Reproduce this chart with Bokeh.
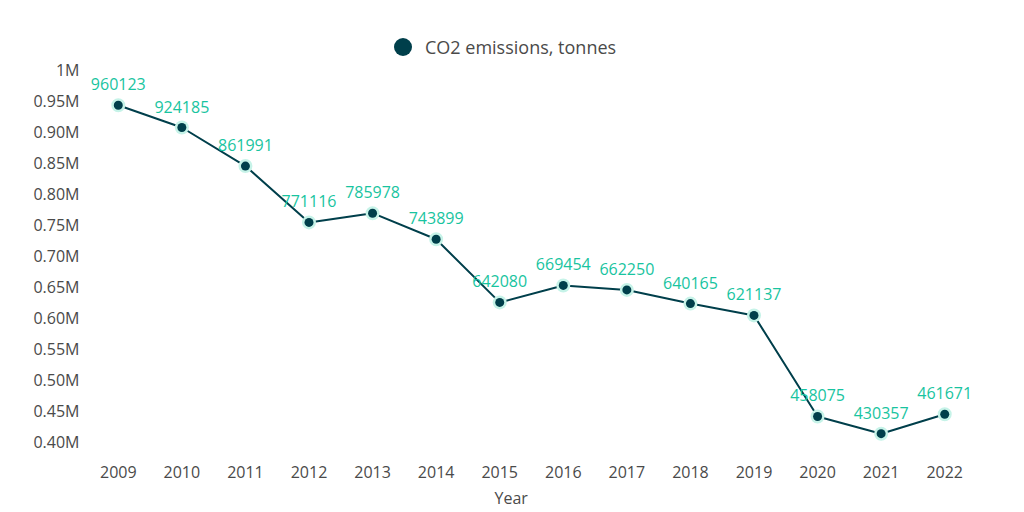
from bokeh.plotting import figure
from bokeh.models import (ColumnDataSource, Range1d, FixedTicker, Legend,
                          LegendItem, LinearAxis, Title)
from bokeh.core.properties import value
from bokeh.embed import file_html
from bokeh.resources import INLINE

# Annual CO2 emissions (tonnes)
years = [2009, 2010, 2011, 2012, 2013, 2014, 2015, 2016, 2017, 2018, 2019, 2020, 2021, 2022]
emissions = [960123, 924185, 861991, 771116, 785978, 743899, 642080,
             669454, 662250, 640165, 621137, 458075, 430357, 461671]

y_ticks = [400000, 450000, 500000, 550000, 600000, 650000, 700000,
           750000, 800000, 850000, 900000, 950000, 1000000]
y_tick_labels = ["0.40M", "0.45M", "0.50M", "0.55M", "0.60M", "0.65M", "0.70M",
                 "0.75M", "0.80M", "0.85M", "0.90M", "0.95M", "1M"]

FONT = "Open Sans"
DARK = "#003f4b"
ACCENT = "#18c4a0"
HALO = "#c6f3e8"
GREY = "#4a4a4a"

Y_START, Y_END = 395161, 1112903
FRAME_H = 445
# tick labels sit a little above their tick positions
label_lift = 10 * (Y_END - Y_START) / FRAME_H

source = ColumnDataSource(data=dict(
    year=years,
    value=emissions,
    label=[str(v) for v in emissions],
))

p = figure(width=1024, height=512, output_backend="svg", toolbar_location=None,
           x_range=Range1d(2008.5, 2022.5),
           y_range=Range1d(Y_START, Y_END),
           y_axis_location=None,
           min_border_left=86, min_border_right=48,
           min_border_top=10, min_border_bottom=57)
p.outline_line_color = None
p.background_fill_color = "white"
p.border_fill_color = "white"
p.grid.visible = False

# series line and markers
p.line("year", "value", source=source, line_color=DARK, line_width=2)
p.scatter("year", "value", source=source, size=14, fill_color=HALO,
          line_color=None)
dots = p.scatter("year", "value", source=source, size=9, fill_color=DARK,
                 line_color=None)

# value labels above each point
p.text("year", "value", text="label", source=source, text_align="center",
       text_baseline="alphabetic", y_offset=-21, text_color=ACCENT,
       text_font=value(FONT), text_font_size="16px")

# y axis
p.extra_y_ranges = {"ticks": Range1d(Y_START - label_lift, Y_END - label_lift)}
yaxis = LinearAxis(y_range_name="ticks", ticker=FixedTicker(ticks=y_ticks),
                   major_label_overrides={t: s for t, s in zip(y_ticks, y_tick_labels)})
p.add_layout(yaxis, "left")

for ax in (p.xaxis[0], yaxis):
    ax.axis_line_color = None
    ax.major_tick_line_color = None
    ax.minor_tick_line_color = None
    ax.major_label_text_font = FONT
    ax.major_label_text_font_size = "16px"
    ax.major_label_text_color = GREY

yaxis.major_label_standoff = 1
p.xaxis.ticker = FixedTicker(ticks=years)
p.xaxis.major_label_standoff = 4

# x axis title
p.add_layout(Title(text="Year", align="left", offset=408, standoff=8,
                   text_font=FONT, text_font_size="16px", text_font_style="normal",
                   text_color=GREY), "below")

# legend
legend = Legend(items=[LegendItem(label="CO2 emissions, tonnes", renderers=[dots])],
                location=(294, 386), orientation="horizontal",
                glyph_width=45, glyph_height=45, label_standoff=0,
                padding=0, spacing=0, border_line_color=None,
                background_fill_alpha=0,
                label_text_font=FONT, label_text_font_size="18px",
                label_text_color=GREY)
p.add_layout(legend, "center")

open("out.html", "w").write(file_html(p, INLINE))
